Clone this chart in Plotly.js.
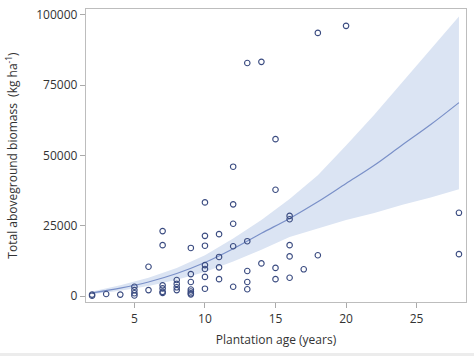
<!DOCTYPE html>
<html>
<head>
<meta charset="utf-8">
<script src="https://cdn.plot.ly/plotly-3.0.1.min.js"></script>
<style>html,body{margin:0;padding:0;background:#fff;}#chart{width:474px;height:356px;}</style>
</head>
<body>
<div id="chart"></div>
<script>
// Observed plots: plantation age (years) and total aboveground biomass (kg/ha)
const age = [
  2, 2, 3, 4,
  5, 5, 5, 5,
  6, 6,
  7, 7, 7, 7, 7, 7,
  8, 8, 8, 8,
  9, 9, 9, 9, 9, 9, 9,
  10, 10, 10, 10, 10, 10, 10,
  11, 11, 11, 11,
  12, 12, 12, 12, 12,
  13, 13, 13, 13, 13,
  14, 14,
  15, 15, 15, 15,
  16, 16, 16, 16, 16,
  17,
  18, 18,
  20,
  28, 28
];
const biomass = [
  100, 500, 700, 500,
  3300, 2100, 1000, 200,
  10400, 2100,
  23100, 18100, 3800, 2700, 1500, 1100,
  5700, 4300, 3100, 2100,
  17100, 7800, 5000, 2300, 1600, 1000, 600,
  33300, 21400, 17900, 11000, 9600, 6800, 2600,
  22000, 13900, 10200, 6000,
  46000, 32600, 25700, 17700, 3300,
  82900, 19500, 8900, 5000, 2400,
  83300, 11600,
  55800, 37800, 10000, 6000,
  28500, 27300, 18100, 14100, 6500,
  9500,
  93600, 14500,
  96100,
  29600, 14900
];
// Fitted curve and confidence band
const fitAge   = [2, 4, 6, 8, 10, 12, 14, 16, 18, 20, 22, 24, 26, 28];
const fitMean  = [1100, 2800, 5000, 8000, 11900, 16800, 22300, 27600, 33500, 40000, 46500, 53800, 61000, 68800];
const fitUpper = [1600, 3800, 6500, 10000, 14500, 20500, 27000, 34500, 43000, 53500, 64500, 76000, 87500, 99400];
const fitLower = [600, 1900, 3600, 5800, 8500, 12300, 16500, 21000, 24000, 27000, 29500, 32500, 35000, 38000];

const yTicks = [0, 25000, 50000, 75000, 100000];
const xTicks = [5, 10, 15, 20, 25];

const traces = [
  {x: fitAge, y: fitLower, type: 'scatter', mode: 'lines', line: {width: 0, color: 'rgba(0,0,0,0)'}, hoverinfo: 'skip', showlegend: false},
  {x: fitAge, y: fitUpper, type: 'scatter', mode: 'lines', fill: 'tonexty', fillcolor: '#dbe4f3', line: {width: 0, color: 'rgba(0,0,0,0)'}, hoverinfo: 'skip', showlegend: false},
  {x: fitAge, y: fitMean, type: 'scatter', mode: 'lines', line: {color: '#7a90c8', width: 1.2, shape: 'spline'}, showlegend: false},
  {x: age, y: biomass, type: 'scatter', mode: 'markers',
   marker: {symbol: 'circle-open', size: 5.5, color: '#3a4b80', line: {width: 1.1, color: '#3a4b80'}}, showlegend: false}
];

const layout = {
  width: 474, height: 356,
  margin: {l: 86, r: 8, t: 9, b: 54},
  paper_bgcolor: '#ffffff', plot_bgcolor: '#ffffff',
  font: {family: 'Open Sans, Noto Sans, sans-serif', size: 12, color: '#333333'},
  xaxis: {
    range: [1.57, 28.5], tickvals: xTicks, ticks: 'outside', ticklen: 5, tickcolor: '#aaaaaa',
    showgrid: false, zeroline: false, showline: true, linecolor: '#bdbdbd', linewidth: 1.2, mirror: true,
    tickfont: {size: 12, color: '#333333'},
    title: {text: 'Plantation age (years)', font: {size: 12, color: '#333333'}, standoff: 10}
  },
  yaxis: {
    range: [-2130, 102100], tickvals: yTicks, tickformat: 'd', ticks: 'outside', ticklen: 5, tickcolor: '#aaaaaa',
    showgrid: false, zeroline: false, showline: true, linecolor: '#bdbdbd', linewidth: 1.2, mirror: true,
    tickfont: {size: 12, color: '#333333'},
    title: {text: 'Total aboveground biomass  (kg ha<sup>-1</sup>)', font: {size: 12, color: '#333333'}, standoff: 16}
  },
  shapes: [
    {type: 'rect', xref: 'paper', yref: 'paper', x0: -0.25, x1: 1.05, y0: -0.185, y1: -0.174, fillcolor: '#ececec', line: {width: 0}}
  ],
  showlegend: false
};

Plotly.newPlot('chart', traces, layout, {displayModeBar: false, staticPlot: true});
</script>
</body>
</html>
